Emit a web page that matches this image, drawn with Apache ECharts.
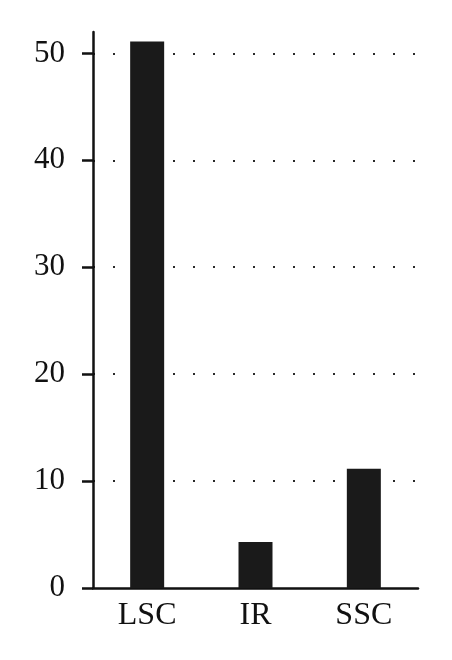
<!DOCTYPE html>
<html>
<head>
<meta charset="utf-8">
<script src="https://cdn.jsdelivr.net/npm/echarts@6/dist/echarts.min.js"></script>
<style>html,body{margin:0;padding:0;background:#fff}#c{width:452px;height:660px}</style>
</head>
<body>
<div id="c"></div>
<script>
const categories = ['LSC', 'IR', 'SSC'];
const values = [51.1, 4.3, 11.15];
const yTicks = [0, 10, 20, 30, 40, 50];

const chart = echarts.init(document.getElementById('c'), null, {renderer: 'canvas'});
const font = '"Liberation Serif", "DejaVu Serif", serif';
chart.setOption({
  animation: false,
  backgroundColor: '#fff',
  grid: {left: 93, right: 34, top: 32, bottom: 72, containLabel: false},
  xAxis: {
    type: 'category',
    data: categories,
    axisLine: {lineStyle: {color: '#111', width: 2.5}},
    axisTick: {show: false},
    axisLabel: {color: '#111', fontFamily: font, fontSize: 32, margin: 12}
  },
  yAxis: {
    type: 'value',
    min: 0,
    max: 52,
    interval: 10,
    axisLine: {show: true, lineStyle: {color: '#111', width: 2.5}},
    axisTick: {show: true, inside: false, length: 11, lineStyle: {color: '#111', width: 2.5}, customValues: yTicks},
    axisLabel: {color: '#111', fontFamily: font, fontSize: 31, margin: 28, customValues: yTicks},
    splitLine: {
      show: true, showMinLine: false, showMaxLine: true,
      lineStyle: {color: '#2a2a2a', width: 2, type: [2, 18], dashOffset: 0}
    }
  },
  series: [{
    type: 'bar',
    data: values,
    barWidth: 34,
    itemStyle: {color: '#1a1a1a'}
  }]
});
</script>
</body>
</html>
